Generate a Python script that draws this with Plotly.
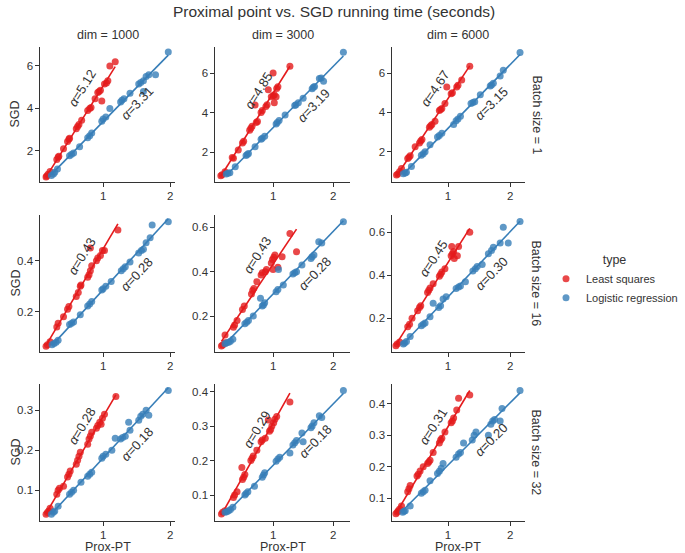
import math
import numpy as np
import plotly.graph_objects as go

dims = [1000, 3000, 6000]
batch_sizes = [1, 16, 32]
series_names = ['Least squares', 'Logistic regression']

# ---- batch size 1 ----
ls_b1_d1000_x = [0.15, 0.16, 0.18, 0.21, 0.31, 0.33, 0.34, 0.41, 0.47, 0.49, 0.5, 0.6, 0.62, 0.64, 0.68, 0.77, 0.8, 0.82, 0.88, 0.92, 0.94, 0.96, 0.98, 1.02, 1.05, 1.07, 1.1, 1.18]
ls_b1_d1000_y = [0.78, 0.82, 0.9, 1.03, 1.6, 1.7, 1.75, 2.1, 2.45, 2.55, 2.6, 3.05, 3.15, 3.25, 3.45, 3.9, 4.0, 4.05, 4.45, 4.75, 4.8, 4.85, 4.35, 5.15, 5.2, 5.3, 6.0, 6.2]
lr_b1_d1000_x = [0.23, 0.26, 0.28, 0.32, 0.5, 0.53, 0.56, 0.65, 0.77, 0.8, 0.83, 0.98, 1.0, 1.04, 1.1, 1.26, 1.28, 1.31, 1.4, 1.53, 1.56, 1.6, 1.6, 1.64, 1.68, 1.78, 1.97]
lr_b1_d1000_y = [0.85, 0.92, 1.0, 1.15, 1.78, 1.85, 1.9, 2.2, 2.62, 2.72, 2.85, 3.4, 3.5, 3.6, 4.0, 4.3, 4.38, 4.45, 4.72, 5.15, 5.22, 5.3, 4.8, 5.5, 5.58, 5.58, 6.65]

ls_b1_d3000_x = [0.13, 0.15, 0.2, 0.32, 0.34, 0.42, 0.49, 0.51, 0.61, 0.63, 0.65, 0.72, 0.74, 0.8, 0.82, 0.7, 0.88, 0.9, 0.97, 1.0, 1.02, 1.06, 1.08, 0.92, 1.02, 1.05, 1.0, 1.28]
ls_b1_d3000_y = [0.8, 0.85, 1.0, 1.72, 1.68, 2.1, 2.45, 2.55, 3.1, 3.2, 3.3, 3.5, 3.55, 4.0, 4.1, 4.38, 4.3, 4.4, 4.8, 4.85, 4.9, 5.22, 5.3, 5.15, 4.5, 4.8, 6.0, 6.35]
lr_b1_d3000_x = [0.22, 0.25, 0.28, 0.37, 0.55, 0.57, 0.59, 0.7, 0.8, 0.82, 0.86, 1.05, 1.07, 1.1, 1.2, 1.36, 1.38, 1.42, 1.5, 1.65, 1.67, 1.69, 1.77, 1.8, 1.84, 2.17]
lr_b1_d3000_y = [0.88, 0.92, 0.95, 1.25, 1.82, 1.87, 1.92, 2.27, 2.65, 2.7, 2.8, 3.42, 3.5, 3.6, 3.87, 4.35, 4.4, 4.5, 4.72, 5.2, 5.28, 5.32, 5.72, 5.75, 5.58, 7.05]

ls_b1_d6000_x = [0.17, 0.19, 0.22, 0.25, 0.35, 0.37, 0.39, 0.47, 0.54, 0.56, 0.58, 0.7, 0.72, 0.74, 0.79, 0.86, 0.88, 0.9, 0.95, 0.98, 1.05, 1.07, 1.14, 1.16, 1.22, 1.35]
ls_b1_d6000_y = [0.82, 0.87, 1.0, 1.15, 1.65, 1.72, 1.8, 2.25, 2.45, 2.55, 2.62, 3.25, 3.32, 3.38, 3.55, 4.1, 4.15, 4.2, 4.45, 5.3, 4.95, 5.0, 5.3, 5.38, 5.65, 6.35]
lr_b1_d6000_x = [0.28, 0.31, 0.33, 0.41, 0.57, 0.6, 0.63, 0.71, 0.83, 0.86, 0.9, 1.09, 1.13, 1.16, 1.2, 1.37, 1.4, 1.43, 1.52, 1.68, 1.7, 1.73, 1.84, 1.89, 2.16]
lr_b1_d6000_y = [0.88, 0.92, 0.96, 1.25, 1.82, 1.9, 2.0, 2.35, 2.75, 2.82, 2.94, 3.38, 3.58, 3.66, 3.8, 4.45, 4.5, 4.55, 4.9, 5.35, 5.4, 5.48, 5.85, 6.15, 7.05]

# ---- batch size 16 ----
ls_b16_d1000_x = [0.15, 0.17, 0.21, 0.31, 0.33, 0.41, 0.47, 0.49, 0.6, 0.63, 0.66, 0.67, 0.77, 0.79, 0.81, 0.83, 0.9, 0.92, 0.96, 0.99, 1.02, 0.81, 1.22]
ls_b16_d1000_y = [0.065, 0.07, 0.082, 0.14, 0.155, 0.18, 0.21, 0.22, 0.26, 0.275, 0.3, 0.305, 0.335, 0.345, 0.36, 0.38, 0.4, 0.41, 0.42, 0.44, 0.44, 0.45, 0.52]
lr_b16_d1000_x = [0.24, 0.27, 0.3, 0.33, 0.5, 0.53, 0.56, 0.66, 0.77, 0.8, 0.83, 0.98, 1.0, 1.04, 1.12, 1.27, 1.3, 1.33, 1.4, 1.53, 1.57, 1.6, 1.64, 1.7, 1.73, 1.97]
lr_b16_d1000_y = [0.07, 0.075, 0.08, 0.088, 0.15, 0.155, 0.16, 0.188, 0.222, 0.23, 0.24, 0.285, 0.29, 0.3, 0.318, 0.36, 0.368, 0.376, 0.395, 0.43, 0.44, 0.445, 0.47, 0.49, 0.54, 0.553]

ls_b16_d3000_x = [0.14, 0.16, 0.2, 0.2, 0.34, 0.36, 0.4, 0.49, 0.52, 0.64, 0.66, 0.68, 0.73, 0.8, 0.82, 0.87, 0.89, 0.97, 0.99, 1.01, 1.03, 1.0, 1.08, 1.15, 1.39, 1.28]
ls_b16_d3000_y = [0.065, 0.07, 0.08, 0.115, 0.15, 0.16, 0.18, 0.23, 0.245, 0.3, 0.315, 0.325, 0.355, 0.385, 0.395, 0.4, 0.41, 0.44, 0.455, 0.465, 0.475, 0.41, 0.42, 0.468, 0.49, 0.573]
lr_b16_d3000_x = [0.2, 0.23, 0.26, 0.29, 0.33, 0.53, 0.56, 0.59, 0.67, 0.82, 0.84, 0.86, 0.79, 1.05, 1.08, 1.09, 1.17, 1.33, 1.36, 1.39, 1.48, 1.63, 1.65, 1.68, 1.76, 1.81, 2.17]
lr_b16_d3000_y = [0.075, 0.08, 0.082, 0.087, 0.095, 0.165, 0.172, 0.18, 0.2, 0.245, 0.25, 0.26, 0.28, 0.31, 0.32, 0.41, 0.34, 0.39, 0.395, 0.4, 0.43, 0.46, 0.468, 0.475, 0.535, 0.53, 0.625]

ls_b16_d6000_x = [0.16, 0.18, 0.22, 0.35, 0.38, 0.42, 0.51, 0.54, 0.56, 0.67, 0.69, 0.71, 0.76, 0.86, 0.88, 0.9, 0.95, 1.05, 1.07, 1.09, 1.1, 1.15, 1.06, 1.17, 1.35]
ls_b16_d6000_y = [0.072, 0.08, 0.09, 0.16, 0.172, 0.2, 0.235, 0.25, 0.258, 0.32, 0.33, 0.34, 0.36, 0.395, 0.405, 0.415, 0.43, 0.49, 0.5, 0.51, 0.478, 0.49, 0.533, 0.533, 0.6]
lr_b16_d6000_x = [0.28, 0.3, 0.33, 0.39, 0.57, 0.6, 0.63, 0.71, 0.76, 0.85, 0.88, 0.92, 0.97, 1.13, 1.17, 1.2, 1.28, 1.4, 1.44, 1.47, 1.55, 1.65, 1.7, 1.73, 1.84, 1.89, 1.97, 2.16]
lr_b16_d6000_y = [0.08, 0.085, 0.092, 0.115, 0.165, 0.172, 0.178, 0.207, 0.27, 0.25, 0.258, 0.29, 0.3, 0.338, 0.345, 0.35, 0.37, 0.42, 0.43, 0.44, 0.45, 0.5, 0.515, 0.53, 0.55, 0.623, 0.55, 0.65]

# ---- batch size 32 ----
ls_b32_d1000_x = [0.15, 0.17, 0.19, 0.21, 0.31, 0.33, 0.35, 0.41, 0.47, 0.49, 0.51, 0.6, 0.62, 0.64, 0.66, 0.77, 0.79, 0.81, 0.83, 0.9, 0.92, 0.95, 0.97, 0.99, 1.02, 1.19]
ls_b32_d1000_y = [0.04, 0.044, 0.048, 0.055, 0.09, 0.1, 0.105, 0.11, 0.133, 0.14, 0.148, 0.165, 0.175, 0.185, 0.195, 0.215, 0.228, 0.236, 0.245, 0.255, 0.262, 0.27, 0.265, 0.28, 0.29, 0.335]
lr_b32_d1000_x = [0.23, 0.26, 0.28, 0.33, 0.5, 0.53, 0.56, 0.67, 0.77, 0.8, 0.83, 0.98, 1.0, 1.04, 1.13, 1.18, 1.26, 1.29, 1.33, 1.4, 1.38, 1.53, 1.56, 1.59, 1.64, 1.68, 1.97]
lr_b32_d1000_y = [0.04, 0.045, 0.048, 0.06, 0.09, 0.095, 0.1, 0.12, 0.135, 0.14, 0.145, 0.18, 0.185, 0.19, 0.2, 0.23, 0.228, 0.232, 0.235, 0.25, 0.27, 0.275, 0.285, 0.29, 0.3, 0.288, 0.35]

ls_b32_d3000_x = [0.14, 0.16, 0.2, 0.34, 0.36, 0.4, 0.48, 0.49, 0.51, 0.53, 0.63, 0.65, 0.67, 0.73, 0.8, 0.82, 0.87, 0.94, 0.96, 0.98, 1.01, 1.03, 1.06, 0.92, 1.28]
ls_b32_d3000_y = [0.045, 0.05, 0.055, 0.093, 0.1, 0.11, 0.18, 0.145, 0.152, 0.16, 0.2, 0.207, 0.213, 0.23, 0.255, 0.26, 0.265, 0.285, 0.29, 0.3, 0.31, 0.32, 0.328, 0.318, 0.37]
lr_b32_d3000_x = [0.2, 0.23, 0.26, 0.29, 0.33, 0.53, 0.55, 0.58, 0.69, 0.82, 0.84, 0.86, 1.05, 1.08, 1.11, 1.28, 1.33, 1.36, 1.39, 1.48, 1.5, 1.63, 1.65, 1.68, 1.77, 1.81, 2.17]
lr_b32_d3000_y = [0.05, 0.052, 0.055, 0.058, 0.065, 0.1, 0.105, 0.11, 0.126, 0.152, 0.158, 0.165, 0.198, 0.205, 0.21, 0.222, 0.245, 0.252, 0.258, 0.28, 0.255, 0.295, 0.3, 0.31, 0.33, 0.325, 0.403]

ls_b32_d6000_x = [0.16, 0.18, 0.2, 0.22, 0.25, 0.35, 0.37, 0.39, 0.5, 0.52, 0.55, 0.6, 0.67, 0.69, 0.71, 0.76, 0.86, 0.88, 0.9, 0.95, 1.05, 1.07, 1.09, 1.14, 1.17, 1.35]
ls_b32_d6000_y = [0.05, 0.055, 0.06, 0.065, 0.075, 0.12, 0.13, 0.14, 0.17, 0.176, 0.186, 0.2, 0.21, 0.215, 0.22, 0.245, 0.275, 0.285, 0.29, 0.31, 0.34, 0.345, 0.355, 0.38, 0.418, 0.428]
lr_b32_d6000_x = [0.27, 0.29, 0.31, 0.39, 0.57, 0.6, 0.63, 0.71, 0.83, 0.86, 0.89, 0.92, 1.13, 1.17, 1.2, 1.25, 1.39, 1.42, 1.45, 1.65, 1.69, 1.72, 1.75, 1.84, 1.87, 2.16]
lr_b32_d6000_y = [0.055, 0.058, 0.06, 0.075, 0.115, 0.12, 0.125, 0.155, 0.178, 0.185, 0.195, 0.21, 0.23, 0.24, 0.245, 0.275, 0.285, 0.3, 0.31, 0.3, 0.335, 0.345, 0.35, 0.345, 0.385, 0.442]

# fitted slopes printed in each panel
ls_alpha = [[5.12, 4.85, 4.67], [0.43, 0.43, 0.45], [0.28, 0.29, 0.31]]
lr_alpha = [[3.31, 3.19, 3.15], [0.28, 0.28, 0.30], [0.18, 0.18, 0.20]]

ls_x = [[ls_b1_d1000_x, ls_b1_d3000_x, ls_b1_d6000_x],
        [ls_b16_d1000_x, ls_b16_d3000_x, ls_b16_d6000_x],
        [ls_b32_d1000_x, ls_b32_d3000_x, ls_b32_d6000_x]]
ls_y = [[ls_b1_d1000_y, ls_b1_d3000_y, ls_b1_d6000_y],
        [ls_b16_d1000_y, ls_b16_d3000_y, ls_b16_d6000_y],
        [ls_b32_d1000_y, ls_b32_d3000_y, ls_b32_d6000_y]]
lr_x = [[lr_b1_d1000_x, lr_b1_d3000_x, lr_b1_d6000_x],
        [lr_b16_d1000_x, lr_b16_d3000_x, lr_b16_d6000_x],
        [lr_b32_d1000_x, lr_b32_d3000_x, lr_b32_d6000_x]]
lr_y = [[lr_b1_d1000_y, lr_b1_d3000_y, lr_b1_d6000_y],
        [lr_b16_d1000_y, lr_b16_d3000_y, lr_b16_d6000_y],
        [lr_b32_d1000_y, lr_b32_d3000_y, lr_b32_d6000_y]]

# ---- layout / style ----
W, H = 685, 553
RED, BLUE = '#e41a1c', '#377eb8'
INK = '#333333'
FONT = 'Liberation Sans, Arial, sans-serif'

# panel boxes in screen pixels (body margin is removed in the page)
col_px = [(40, 175), (215, 350), (392, 525)]
row_px = [(47, 182), (215, 352), (384, 521)]
x_ranges = [(0.06, 2.07), (0.033, 2.28), (0.097, 2.24)]
y_ranges = [[(0.54, 6.89), (0.48, 7.32), (0.46, 7.33)],
            [(0.042, 0.579), (0.038, 0.656), (0.043, 0.68)],
            [(0.023, 0.366), (0.025, 0.422), (0.027, 0.463)]]
y_dticks = [2, 0.2, 0.1]
ls_label_pos = [[(0.68, 4.95), (0.755, 5.14), (0.79, 5.22)],
                [(0.68, 0.416), (0.73, 0.475), (0.76, 0.479)],
                [(0.68, 0.26), (0.73, 0.29), (0.76, 0.328)]]
lr_label_pos = [[(1.5, 4.24), (1.67, 4.38), (1.7, 4.47)],
                [(1.5, 0.344), (1.7, 0.39), (1.7, 0.41)],
                [(1.5, 0.215), (1.7, 0.256), (1.7, 0.286)]]


def fx(px):
    return px / W


def fy(py):
    return 1 - py / H


def label(x, y, text, size=12.5, angle=0):
    return dict(x=fx(x), y=fy(y), xref='paper', yref='paper', showarrow=False,
                xanchor='center', yanchor='middle', text=text, textangle=angle,
                font=dict(family=FONT, size=size, color=INK))


fig = go.Figure()
annotations = []
axis_common = dict(showgrid=False, zeroline=False, showline=True, linecolor=INK, linewidth=1.25,
                   ticks='outside', ticklen=3.5, tickwidth=1.25, tickcolor=INK,
                   tickfont=dict(family=FONT, size=11.5, color=INK), fixedrange=True)

for r in range(3):
    for c in range(3):
        k = r * 3 + c + 1
        xa = 'x' if k == 1 else f'x{k}'
        ya = 'y' if k == 1 else f'y{k}'
        x0p, x1p = col_px[c]
        y0p, y1p = row_px[r]
        fig.layout[f'xaxis{"" if k == 1 else k}'] = dict(
            axis_common, domain=[fx(x0p), fx(x1p)], range=list(x_ranges[c]),
            tickvals=[1, 2], anchor=ya)
        fig.layout[f'yaxis{"" if k == 1 else k}'] = dict(
            axis_common, domain=[fy(y1p), fy(y0p)], range=list(y_ranges[r][c]),
            dtick=y_dticks[r], tick0=0, anchor=xa)

        px_per_x = (x1p - x0p) / (x_ranges[c][1] - x_ranges[c][0])
        px_per_y = (y1p - y0p) / (y_ranges[r][c][1] - y_ranges[r][c][0])

        for name, color, xs, ys, alpha, pos in [
            (series_names[0], RED, ls_x[r][c], ls_y[r][c], ls_alpha[r][c], ls_label_pos[r][c]),
            (series_names[1], BLUE, lr_x[r][c], lr_y[r][c], lr_alpha[r][c], lr_label_pos[r][c]),
        ]:
            fig.add_trace(go.Scatter(
                x=xs, y=ys, mode='markers', xaxis=xa, yaxis=ya,
                marker=dict(size=7, color=color, opacity=0.8),
                name=name, showlegend=(k == 1), hoverinfo='skip'))
            b, a = np.polyfit(xs, ys, 1)
            lx = np.array([min(xs), max(xs)])
            fig.add_trace(go.Scatter(
                x=lx, y=a + b * lx, mode='lines', xaxis=xa, yaxis=ya,
                line=dict(color=color, width=1.6), showlegend=False, hoverinfo='skip'))
            angle = math.degrees(math.atan(alpha * px_per_y / px_per_x))
            annotations.append(dict(
                x=pos[0], y=pos[1], xref=xa, yref=ya, showarrow=False,
                xanchor='center', yanchor='middle',
                text=f'<i>α</i>={alpha:.2f}', textangle=-angle,
                font=dict(family=FONT, size=13, color=INK)))

# facet titles and axis labels
for c, d in enumerate(dims):
    cx = (col_px[c][0] + col_px[c][1]) / 2
    annotations.append(label(cx, 35, f'dim = {d}'))
    annotations.append(label(cx, 547, 'Prox-PT'))
for r, bsz in enumerate(batch_sizes):
    cy = (row_px[r][0] + row_px[r][1]) / 2
    annotations.append(label(536, cy, f'Batch size = {bsz}', angle=90))
    annotations.append(label(15, cy, 'SGD', angle=-90))
annotations.append(label(334, 11, 'Proximal point vs. SGD running time (seconds)', size=15.5))

fig.update_layout(
    width=W, height=H,
    margin=dict(l=0, r=0, t=0, b=0),
    plot_bgcolor='white', paper_bgcolor='white',
    annotations=annotations,
    legend=dict(x=fx(546), y=fy(248), xanchor='left', yanchor='top',
                title=dict(text='type', side='top center', font=dict(family=FONT, size=12.5, color=INK)),
                font=dict(family=FONT, size=11, color=INK), bgcolor='rgba(0,0,0,0)',
                itemwidth=30, tracegroupgap=0),
)

fig.write_html('out.html', config={'displayModeBar': False},
               post_script="document.body.style.margin = '0';")
